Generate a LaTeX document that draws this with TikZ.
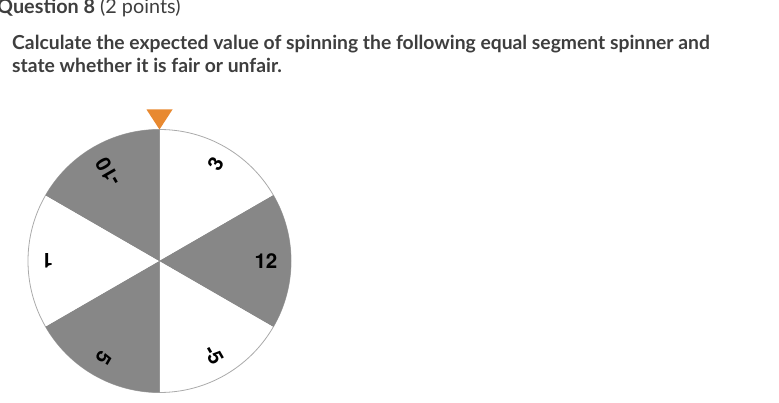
\documentclass[tikz,border=0pt]{standalone}
\usepackage{fontspec}
\usetikzlibrary{calc}
\setmainfont{Lato}
\newfontfamily\spinfont{TeX Gyre Heros}
\definecolor{txt}{RGB}{62,62,62}
\definecolor{segfill}{RGB}{135,135,135}
\definecolor{rimline}{RGB}{170,170,170}
\definecolor{pointer}{RGB}{232,137,48}
\begin{document}
\begin{tikzpicture}[x=1pt,y=1pt,
  qtext/.style={anchor=base west,inner sep=0pt,text=txt,font=\fontsize{19.3}{23}\selectfont\bfseries},
  seglabel/.style={anchor=east,inner sep=0pt,font=\spinfont\fontsize{20.5}{20.5}\selectfont\bfseries,text=black}]
\useasboundingbox (0,0) rectangle (779,-403);
\node[anchor=base west,inner sep=0pt,text=txt,font=\fontsize{19.8}{19.8}\selectfont] (title) at (-3,-14)
  {\textbf{Question 8} (2 points)};
\node[qtext] (q1) at (12,-49.5) {Calculate the expected value of spinning the following equal segment spinner and};
\node[qtext] (q2) at (12,-72.5) {state whether it is fair or unfair.};
% spinner
\coordinate (c) at (159.5,-261);
\def\R{131.5}
\foreach \a/\f in {90/white,30/segfill,-30/white,-90/segfill,-150/white,150/segfill}{
  \fill[\f] (c) -- ++(\a:\R) arc[start angle=\a,delta angle=-60,radius=\R] -- cycle;
}
\draw[rimline,line width=0.8pt] (c) circle[radius=\R];
\fill[segfill] (c) -- ++(30:\R) arc[start angle=30,end angle=-30,radius=\R] -- cycle;
\fill[segfill] (c) -- ++(-90:\R) arc[start angle=-90,end angle=-150,radius=\R] -- cycle;
\fill[segfill] (c) -- ++(150:\R) arc[start angle=150,end angle=90,radius=\R] -- cycle;
\foreach \a/\t/\n in {60/3/a,0/12/b,-60/-5/c,-120/5/d,180/1/e,120/-10/f}{
  \node[seglabel,rotate=\a] (lab\n) at ($(c)+(\a:118)$) {\t};
}
% pointer
\coordinate (ptip) at (159.5,-129.5);
\fill[pointer] (ptip) -- ++(-13,20) -- ++(26,0) -- cycle;
\end{tikzpicture}
\end{document}
